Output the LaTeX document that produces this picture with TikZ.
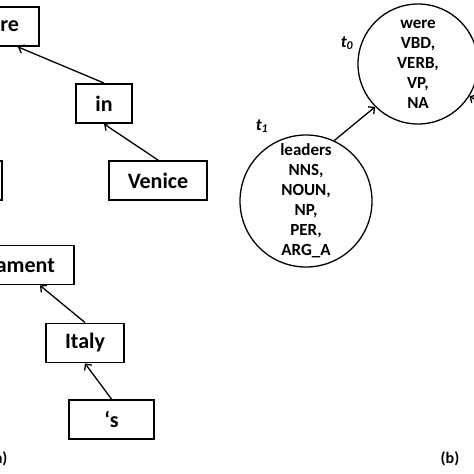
\documentclass[tikz,border=0pt]{standalone}
\usepackage{fontspec}
\setmainfont{Carlito}
\usetikzlibrary{arrows.meta,positioning,calc}

\begin{document}
\begin{tikzpicture}[
  x=1pt,y=-1pt,
  font=\bfseries\fontsize{22}{25}\selectfont,
  word/.style={draw,line width=1.9pt,minimum height=39pt,inner xsep=19pt,inner ysep=0pt},
  token/.style={draw,circle,line width=1.3pt,inner sep=0pt,align=center,
    font=\bfseries\fontsize{17}{20}\selectfont},
  line/.style={-{Straight Barb[length=4.5pt,width=9pt]},line width=1.3pt},
  tlabel/.style={font=\bfseries\itshape\fontsize{17}{20}\selectfont},
  panel/.style={font=\bfseries\fontsize{16}{20}\selectfont}]
\useasboundingbox (0,0) rectangle (474,474);
\clip (0,0) rectangle (474,474);
% (a) dependency tree, cut at the left
\node[word,minimum width=86pt] (were) at (-4,26.5) {were};
\node[word] (in) at (104,103.5) {in};
\node[word] (venice) at (158,180.5) {Venice};
\node[word,minimum width=80pt] (leaders) at (-38,180.5) {};
\node[word] (parliament) at (5,265) {Parliament};
\node[word] (italy) at (85,343) {Italy};
\node[word,minimum width=85pt] (poss) at (111.5,419.5) {‘s};
\node[panel,anchor=east] (panela) at (11,459) {(a)};
\draw[line] (in.north)--([xshift=22pt]were.south);
\draw[line] (venice.north)--(in.south);
\draw[line] (italy.north)--([xshift=35pt]parliament.south);
\draw[line] (poss.north)--(italy.south);
% (b) token graph
\node[token,minimum size=120pt] (t0) at (418,64) {were\\VBD,\\VERB,\\VP,\\NA};
\node[token,minimum size=132pt] (t1) at (306,201) {leaders\\NNS,\\NOUN,\\NP,\\PER,\\ARG\_A};
\node[tlabel] (t0lab) at (347,43) {t\textsubscript{0}};
\node[tlabel] (t1lab) at (262,126) {t\textsubscript{1}};
\node[panel] (panelb) at (450,459) {(b)};
\coordinate (offright) at (505,118);
\draw[line] (t1.65)--(t0.225);
\draw[line] (offright)--(t0.-32);
\end{tikzpicture}
\end{document}
